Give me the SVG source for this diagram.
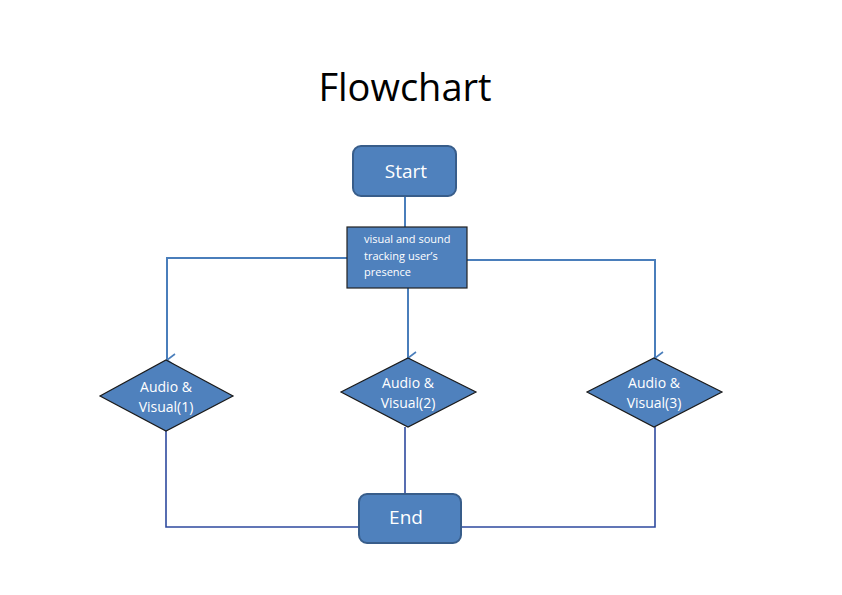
<svg xmlns="http://www.w3.org/2000/svg" width="842" height="595" viewBox="0 0 842 595">
<style>
text{font-family:"Open Sans","Liberation Sans",sans-serif;fill:#fff}
.n{fill:#4f81bd;stroke:#385d8a;stroke-width:2}
.d{fill:#4f81bd;stroke:#1a1a1a;stroke-width:1.2}
.c{fill:none;stroke:#4a7ebb;stroke-width:2}
.b{fill:none;stroke:#2e4a9e;stroke-width:1.6}
</style>
<defs><marker id="a" markerWidth="14" markerHeight="10" refX="7" refY="9" orient="auto" markerUnits="userSpaceOnUse"><path d="M1,1 L7,9 L13,1" fill="none" stroke="#4a7ebb" stroke-width="1.6"/></marker></defs>
<rect width="842" height="595" fill="#fff"/>
<text x="405" y="101" text-anchor="middle" font-size="38" style="fill:#000">Flowchart</text>
<g id="connectors">
<path class="c" d="M405,196V227"/>
<path class="c" d="M347,258H167V360" marker-end="url(#a)"/>
<path class="c" d="M408,288V358" marker-end="url(#a)"/>
<path class="c" d="M467,260H655V358" marker-end="url(#a)"/>
<path class="b" d="M166,431V527H359"/>
<path class="b" d="M405,427V494"/>
<path class="b" d="M655,427V527H461"/>
</g>
<g id="start"><rect class="n" x="353" y="146" width="103" height="50" rx="8"/><text x="406" y="178" text-anchor="middle" font-size="19">Start</text></g>
<g id="process"><rect x="347" y="227" width="120" height="61" fill="#4f81bd" stroke="#222" stroke-width="1.2"/>
<text font-size="11"><tspan x="364" y="243">visual and sound</tspan><tspan x="364" y="260">tracking user’s</tspan><tspan x="364" y="276">presence</tspan></text></g>
<g id="av1"><polygon class="d" points="166,360 233,396 166,431 100,396"/><text text-anchor="middle" font-size="14"><tspan x="166" y="392">Audio &amp;</tspan><tspan x="166" y="412">Visual(1)</tspan></text></g>
<g id="av2"><polygon class="d" points="408,358 476,392 408,427 341,392"/><text text-anchor="middle" font-size="14"><tspan x="408" y="388">Audio &amp;</tspan><tspan x="408" y="408">Visual(2)</tspan></text></g>
<g id="av3"><polygon class="d" points="654,358 722,392 654,427 587,392"/><text text-anchor="middle" font-size="14"><tspan x="654" y="388">Audio &amp;</tspan><tspan x="654" y="408">Visual(3)</tspan></text></g>
<g id="end"><rect class="n" x="359" y="494" width="102" height="49" rx="8"/><text x="406" y="524" text-anchor="middle" font-size="19">End</text></g>
</svg>
